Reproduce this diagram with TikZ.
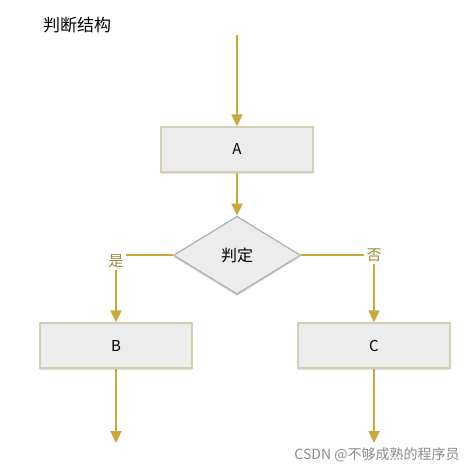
\documentclass[tikz,border=0pt]{standalone}
\usepackage{fontspec}
\setmainfont{Noto Sans CJK SC}
\usepackage{xcolor}
\usetikzlibrary{positioning,arrows.meta,shapes.geometric,shadows}

\definecolor{flowgold}{HTML}{C9A93C}
\definecolor{labelgold}{HTML}{9E8B3E}
\definecolor{boxline}{HTML}{D5CFB2}
\definecolor{boxfill}{HTML}{ECECEC}
\definecolor{diamline}{HTML}{A7B3B3}

\begin{document}
\begin{tikzpicture}[x=1pt, y=-1pt, >={Triangle[width=11pt,length=12pt]},
		flow/.style={color=flowgold, line width=1.8pt},
		block/.style={rectangle, draw=boxline, line width=1.3pt, fill=boxfill,
			minimum width=152pt, minimum height=45pt, text=black,
			font=\fontsize{15pt}{17pt}\selectfont,
			drop shadow={shadow xshift=0pt, shadow yshift=-2pt, opacity=0.25}},
		decision/.style={diamond, draw=diamline, line width=1.2pt, fill=boxfill,
			minimum width=127pt, minimum height=78pt, inner sep=0pt, text=black,
			font=\fontsize{16pt}{18pt}\selectfont,
			drop shadow={shadow xshift=0pt, shadow yshift=-2pt, opacity=0.25}},
		branch/.style={inner sep=2pt, text=labelgold, font=\fontsize{15pt}{17pt}\selectfont}]
		\fill[white] (0,0) rectangle (474,476);
		\useasboundingbox (0,0) rectangle (474,476);

		\node[font=\fontsize{17pt}{19pt}\selectfont] (title) at (77,25) {判断结构};

		\coordinate (start) at (237,35);
		\node[block] (A) at (237,149.5) {A};
		\node[decision, below=43pt of A] (judge) {判定};

		\node[block] (B) at (116,345.5) {B};
		\node[block] (C) at (374,345.5) {C};
		\node[branch] (yes) at (116,261) {是};
		\node[branch] (no) at (374,255) {否};

		\coordinate (endB) at (116,443);
		\coordinate (endC) at (374,443);

		\draw[flow, ->] (start) -- (A);
		\draw[flow, ->] (A) -- (judge);

		\draw[flow] (judge.west) -- (judge.west -| yes.east);
		\draw[flow, ->] (yes) -- (B);
		\draw[flow] (judge.east) -- (judge.east -| no.west);
		\draw[flow, ->] (no) -- (C);

		\draw[flow, ->] (B) -- (endB);
		\draw[flow, ->] (C) -- (endC);

		\node[text=black!45, font=\fontsize{14pt}{16pt}\selectfont] (mark) at (377,455) {CSDN @不够成熟的程序员};
	\end{tikzpicture}
\end{document}
